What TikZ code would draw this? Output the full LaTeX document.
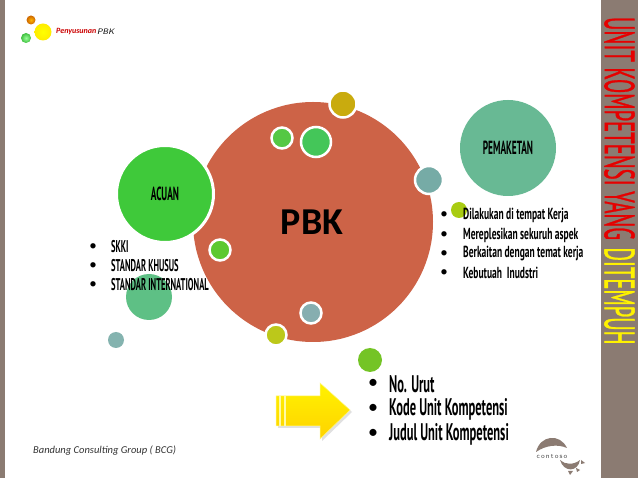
\documentclass[tikz,border=0pt]{standalone}
\usepackage{fontspec}
\usepackage{graphicx}
\setmainfont{Carlito}
\newfontfamily\titlefont[FakeBold=1.2]{PT Sans}
\newfontfamily\leftfont[FakeStretch=0.5]{PT Sans Bold}
\newfontfamily\rightfont[FakeStretch=0.595]{PT Sans Bold}
\newfontfamily\headfont[FakeStretch=0.49]{PT Sans Bold}
\newfontfamily\lowerfont[FakeStretch=0.52]{PT Sans Bold}
\definecolor{bar-grey}{HTML}{8B7B72}
\definecolor{main-red}{HTML}{CD6347}
\definecolor{acuan-green}{HTML}{3FC93A}
\definecolor{pemaketan-green}{HTML}{68B994}
\definecolor{teal-grey}{HTML}{76ABA6}
\tikzset{
    ball/.style = {circle, inner sep=0pt, minimum size=#1},
    ring-ball/.style = {ball=#1, draw=white, line width=2.5pt},
    list-text/.style = {anchor=west, inner sep=0pt, font=\leftfont\fontsize{17}{17}\selectfont},
    big-list-text/.style = {anchor=west, inner sep=0pt, font=\lowerfont\fontsize{24}{24}\selectfont},
    list-dot/.style = {anchor=center, inner sep=0pt, font=\fontsize{15}{15}\selectfont},
    head-text/.style = {inner sep=0pt, font=\headfont\fontsize{19}{19}\selectfont},
}

\begin{document}
\begin{tikzpicture}[x=1pt,y=-1pt]
\useasboundingbox (0,0) rectangle (638,478);
\fill[white] (0,0) rectangle (638,478);
% side bars
\fill[bar-grey] (0,0) rectangle (5,478);
\fill[bar-grey] (601,0) rectangle (638,478);
\node[rotate=-90, inner sep=0pt, text=red!90!black] (title-red) at (619.5,128.5) {\resizebox{223pt}{30pt}{\titlefont UNIT KOMPETENSI YANG}};
\node[rotate=-90, inner sep=0pt, text=yellow] (title-yellow) at (619.5,296) {\resizebox{97pt}{30pt}{\titlefont DITEMPUH}};
% logo top left
\node[ball=9pt, inner color=orange!60!yellow, outer color=orange!80!black] (logo-orange) at (31,20) {};
\node[ball=17pt, inner color=yellow, outer color=yellow!85!orange] (logo-yellow) at (43,32) {};
\node[ball=10pt, inner color=green!40!white, outer color=green!50!gray] (logo-green) at (26,38) {};
\node[inner sep=0pt, anchor=west, text=red!80!black, font=\bfseries\fontsize{8}{8}\itshape\selectfont] (logo-script) at (56,32) {Penyusunan};
\node[inner sep=0pt, anchor=west, font=\sffamily\fontsize{8}{8}\itshape\selectfont] (logo-pbk) at (97,32) {PBK};
% circles
\node[ball=240pt, fill=main-red] (pbk) at (313,222) {};
\node[ball=97pt, draw=white, line width=3pt, fill=acuan-green] (acuan) at (165,194) {};
\node[ball=96pt, fill=pemaketan-green] (pemaketan) at (508,148) {};
\node[ball=46pt, fill=pemaketan-green!90!green] (ball-low) at (149,297) {};
\node[ball=16pt, fill=teal-grey!90!white] (ball-far) at (116,340) {};
\node[ring-ball=27pt, fill={rgb,255:red,201;green,171;blue,14}] (ball-top) at (343,104) {};
\node[ring-ball=21pt, fill={rgb,255:red,85;green,200;blue,68}] (ball-a) at (282,138) {};
\node[ring-ball=30pt, fill={rgb,255:red,68;green,198;blue,89}] (ball-b) at (316,142) {};
\node[ring-ball=21pt, fill={rgb,255:red,92;green,201;blue,47}] (ball-c) at (220,250) {};
\node[ring-ball=28pt, fill=teal-grey] (ball-d) at (429,180) {};
\node[ball=16pt, fill={rgb,255:red,169;green,204;blue,18}] (ball-e) at (459,210) {};
\node[ring-ball=21pt, fill={rgb,255:red,134;green,174;blue,176}] (ball-f) at (311,313) {};
\node[ring-ball=21pt, fill={rgb,255:red,188;green,200;blue,26}] (ball-g) at (276,335) {};
\node[ball=24pt, fill={rgb,255:red,116;green,196;blue,38}] (ball-h) at (370,360) {};
% labels
\node[inner sep=0pt, font=\bfseries\fontsize{38}{38}\selectfont] (pbk-text) at (312,222) {PBK};
\node[head-text] (acuan-text) at (acuan) {ACUAN};
\node[head-text] (pemaketan-text) at (pemaketan) {PEMAKETAN};
% left list
\foreach \name/\ypos/\txt in {skki/247/SKKI, khusus/266/STANDAR KHUSUS, inter/285/STANDAR INTERNATIONAL}{
    \node[list-dot] (dot-\name) at (93,\ypos) {•};
    \node[list-text] (item-\name) at (111,\ypos) {\txt};
}
% right list
\foreach \name/\ypos/\txt in {tempat/215/Dilakukan di tempat Kerja, sekuruh/235/Mereplesikan sekuruh aspek, temat/254/Berkaitan dengan temat kerja, butuh/273/Kebutuah\ \ Inudstri}{
    \node[list-dot] (dot-\name) at (444,\ypos) {•};
    \node[list-text, font=\rightfont\fontsize{16}{16}\selectfont] (item-\name) at (463,\ypos) {\txt};
}
% lower list
\foreach \name/\ypos/\txt in {urut/384/No. Urut, kode/409/Kode Unit Kompetensi, judul/434/Judul Unit Kompetensi}{
    \node[list-dot, font=\fontsize{20}{20}\selectfont] (dot-\name) at (373,\ypos) {•};
    \node[big-list-text] (item-\name) at (389,\ypos) {\txt};
}
% arrow
\fill[black!12] (278,398) -- (322,398) -- (322,385) -- (352,412) -- (322,441) -- (322,428) -- (278,428) -- cycle;
\shade[top color=yellow!90!orange, bottom color=yellow!65!orange, draw=yellow!50!white, line width=.5pt]
    (276,396) -- (320,396) -- (320,383) -- (350,410) -- (320,439) -- (320,426) -- (276,426) -- cycle;
\fill[yellow!35!white] (279,396) rectangle (280.5,426);
\fill[yellow!35!white] (284,396) rectangle (285.5,426);
% footer
\node[inner sep=0pt, anchor=west, text=black!80, font=\itshape\fontsize{10.5}{10.5}\selectfont] (footer) at (33,451) {Bandung Consulting Group ( BCG)};
% contoso logo
\fill[bar-grey] (536,452) .. controls (540,435) and (560,433) .. (567,448) .. controls (558,444) and (546,445) .. (536,452) -- cycle;
\fill[bar-grey] (560,460) .. controls (565,465) and (574,465) .. (580,460) .. controls (578,472) and (564,473) .. (560,460) -- cycle;
\fill[bar-grey] (581,460) -- (585,463) -- (581,464) -- cycle;
\fill[bar-grey] (576,468) -- (580,470) -- (577,472) -- cycle;
\fill[bar-grey] (568,471) -- (573,471) -- (570,475) -- cycle;
\node[inner sep=0pt, text=black!70, font=\sffamily\fontsize{7}{7}\selectfont] (contoso) at (552,457) {c\,o\,n\,t\,o\,s\,o};
\end{tikzpicture}
\end{document}
